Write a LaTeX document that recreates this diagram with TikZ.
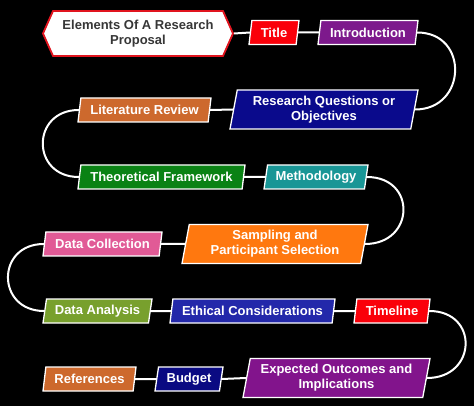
\documentclass[tikz,border=0pt]{standalone}
\usepackage{fontspec}
\setmainfont{Liberation Sans}
\usetikzlibrary{shapes.geometric,shapes.symbols}
\definecolor{cTitle}{RGB}{250,0,10}
\definecolor{cIntro}{RGB}{125,25,140}
\definecolor{cRQ}{RGB}{10,10,140}
\definecolor{cLit}{RGB}{205,105,45}
\definecolor{cTheo}{RGB}{10,130,20}
\definecolor{cMeth}{RGB}{25,150,150}
\definecolor{cDC}{RGB}{225,90,150}
\definecolor{cSamp}{RGB}{255,120,15}
\definecolor{cDA}{RGB}{120,160,45}
\definecolor{cEth}{RGB}{35,40,170}
\definecolor{cTime}{RGB}{250,0,10}
\definecolor{cExp}{RGB}{130,20,140}
\definecolor{cBud}{RGB}{10,10,130}
\definecolor{cRef}{RGB}{205,105,45}
\definecolor{cHdrText}{RGB}{55,55,55}
\definecolor{cHdrBorder}{RGB}{225,20,30}
\tikzset{
  box/.style={trapezium, trapezium left angle=76, trapezium right angle=104,
    trapezium stretches body, draw=white, line width=1.3pt, inner sep=1pt,
    text=white, align=center, minimum height=24pt,
    font=\fontsize{13}{15}\selectfont\bfseries},
  tall/.style={minimum height=39pt},
  hdr/.style={signal, signal to=west and east, signal pointer angle=132,
    draw=cHdrBorder, line width=1.8pt, fill=white, text=cHdrText, align=center,
    minimum width=190pt, minimum height=45pt, inner sep=1pt,
    font=\fontsize{13}{15}\selectfont\bfseries},
  conn/.style={draw=white, line width=2pt}
}
\begin{document}
\begin{tikzpicture}[x=1pt,y=-1pt]
\fill[black] (0,0) rectangle (474,406);
\useasboundingbox (0,0) rectangle (474,406);

\node[hdr] (hdr) at (138,33.5) {Elements Of A Research\\Proposal};
\node[box, fill=cTitle, minimum width=50pt] (title) at (274,32.5) {Title};
\node[box, fill=cIntro, minimum width=100pt] (intro) at (368,32.5) {Introduction};
\node[box, tall, fill=cRQ, minimum width=188pt] (rq) at (324,109.5) {Research Questions or\\Objectives};
\node[box, fill=cLit, minimum width=133pt] (lit) at (144.5,110) {Literature Review};
\node[box, fill=cTheo, minimum width=167pt] (theo) at (161.5,177) {Theoretical Framework};
\node[box, fill=cMeth, minimum width=104pt] (meth) at (316,177) {Methodology};
\node[box, tall, fill=cSamp, minimum width=186pt] (samp) at (275,244) {Sampling and\\Participant Selection};
\node[box, fill=cDC, minimum width=119pt] (dc) at (102.5,244) {Data Collection};
\node[box, fill=cDA, minimum width=109pt] (da) at (97.5,311) {Data Analysis};
\node[box, fill=cEth, minimum width=165pt] (eth) at (252.5,311) {Ethical Considerations};
\node[box, fill=cTime, minimum width=76pt] (time) at (392,311) {Timeline};
\node[box, tall, fill=cExp, minimum width=187pt] (exp) at (336.5,378) {Expected Outcomes and\\Implications};
\node[box, fill=cBud, minimum width=68pt] (bud) at (189,379) {Budget};
\node[box, fill=cRef, minimum width=93pt] (ref) at (89.5,379) {References};

\begin{scope}[on background layer/.style={}]
\end{scope}

\draw[conn] (hdr.east) -- (title.west);
\draw[conn] (title.east) -- (intro.west);
\draw[conn] (intro.east) .. controls +(52,0) and +(52,0) .. (rq.east);
\draw[conn] (rq.west) -- (lit.east);
\draw[conn] (lit.west) .. controls +(-48,0) and +(-48,0) .. (theo.west);
\draw[conn] (theo.east) -- (meth.west);
\draw[conn] (meth.east) .. controls +(50,0) and +(50,0) .. (samp.east);
\draw[conn] (samp.west) -- (dc.east);
\draw[conn] (dc.west) .. controls +(-48,0) and +(-48,0) .. (da.west);
\draw[conn] (da.east) -- (eth.west);
\draw[conn] (eth.east) -- (time.west);
\draw[conn] (time.east) .. controls +(50,0) and +(50,0) .. (exp.east);
\draw[conn] (exp.west) -- (bud.east);
\draw[conn] (bud.west) -- (ref.east);
\end{tikzpicture}
\end{document}
